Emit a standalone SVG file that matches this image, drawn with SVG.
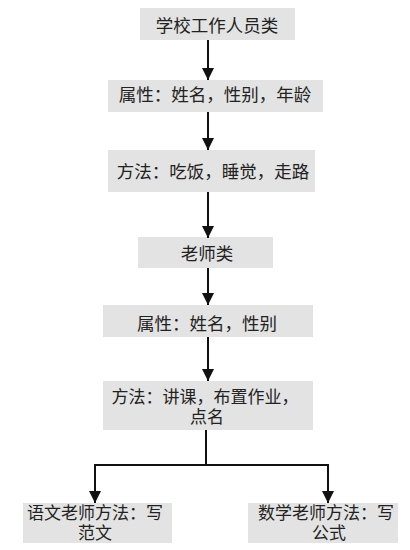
<svg xmlns="http://www.w3.org/2000/svg" width="410" height="550" viewBox="0 0 410 550">
<defs>
<marker id="ah" viewBox="0 0 12 12" refX="12" refY="6" markerWidth="12" markerHeight="12" markerUnits="userSpaceOnUse" orient="auto">
<path d="M0,0 L12,6 L0,12 Z" fill="#111"/>
</marker>
</defs>
<style>
.box{fill:#e3e3e3;}
.t{font-family:"Noto Sans CJK SC","Noto Sans",sans-serif;font-size:17.5px;fill:#222;text-anchor:middle;}
.s{font-size:17px;}
.c{stroke:#111;stroke-width:2;fill:none;}
</style>
<rect width="410" height="550" fill="#fff"/>
<g id="n1"><rect class="box" x="140" y="8" width="155" height="32"/><text class="t" x="217" y="32">学校工作人员类</text></g>
<g id="n2"><rect class="box" x="108" y="80" width="215" height="32"/><text class="t" x="215" y="100.5">属性：姓名，性别，年龄</text></g>
<g id="n3"><rect class="box" x="108" y="150" width="207" height="42"/><text class="t" x="213" y="177.5">方法：吃饭，睡觉，走路</text></g>
<g id="n4"><rect class="box" x="138" y="237" width="135" height="31"/><text class="t" x="207" y="260">老师类</text></g>
<g id="n5"><rect class="box" x="103" y="305" width="210" height="32"/><text class="t" x="207" y="330">属性：姓名，性别</text></g>
<g id="n6"><rect class="box" x="103" y="381" width="210" height="49"/><text class="t s" x="205" y="403">方法：讲课，布置作业，</text><text class="t s" x="207" y="423">点名</text></g>
<g id="n7"><rect class="box" x="23" y="503" width="149" height="40"/><text class="t s" x="95" y="519">语文老师方法：写</text><text class="t s" x="95" y="539">范文</text></g>
<g id="n8"><rect class="box" x="248" y="503" width="150" height="40"/><text class="t s" x="326" y="519">数学老师方法：写</text><text class="t s" x="329" y="539">公式</text></g>
<g id="connectors">
<line class="c" x1="208" y1="40" x2="208" y2="80" marker-end="url(#ah)"/>
<line class="c" x1="208" y1="112" x2="208" y2="150" marker-end="url(#ah)"/>
<line class="c" x1="208" y1="192" x2="208" y2="238" marker-end="url(#ah)"/>
<line class="c" x1="208" y1="268" x2="208" y2="305" marker-end="url(#ah)"/>
<line class="c" x1="208" y1="337" x2="208" y2="381" marker-end="url(#ah)"/>
<polyline class="c" points="206,430 206,465 95,465 95,503" marker-end="url(#ah)"/>
<polyline class="c" points="206,465 328,465 328,503" marker-end="url(#ah)"/>
</g>
</svg>
